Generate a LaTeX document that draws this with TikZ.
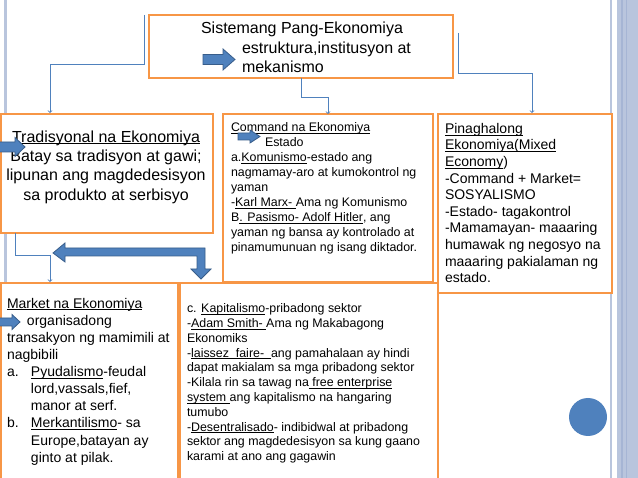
\documentclass[tikz,border=0pt]{standalone}
\usepackage{fontspec}
\setmainfont{Liberation Sans}
\definecolor{boxorange}{HTML}{F79646}
\definecolor{conblue}{HTML}{4F81BD}
\definecolor{arrowfill}{HTML}{4F81BD}
\definecolor{arrowedge}{HTML}{385D8A}
\definecolor{decor}{HTML}{B9C5DD}
\definecolor{decordark}{HTML}{A6B5D4}
\newcommand{\uln}[1]{\underline{\smash{#1}}}
\tikzset{
  box/.style={draw=boxorange, line width=1.6pt, fill=white, inner sep=0pt, outer sep=0pt, anchor=north west},
  txt/.style={inner sep=0pt, outer sep=0pt, align=left, anchor=north west},
  conn/.style={draw=conblue, line width=0.8pt, ->},
  blkarrow/.style={fill=arrowfill, draw=arrowedge, line width=0.8pt, line join=miter}
}
% block arrow: x, y (centre), length, head start, half body, half head
\newcommand{\blockarr}[6]{\filldraw[blkarrow] (#1,#2-#5) -- (#1+#4,#2-#5) -- (#1+#4,#2-#6) -- (#1+#3,#2) -- (#1+#4,#2+#6) -- (#1+#4,#2+#5) -- (#1,#2+#5) -- cycle;}
\begin{document}
\begin{tikzpicture}[x=1pt,y=-1pt]
\clip (0,0) rectangle (638,478);
\fill[white] (0,0) rectangle (638,478);
% side decoration
\draw[decor, line width=3pt] (5,0) -- (5,283);
\draw[decor, line width=2pt] (610.5,0) -- (610.5,478);
\fill[decor] (617,0) rectangle (638,478);
\draw[decordark, line width=1.2pt] (622,0) -- (622,478);
\draw[decordark, line width=0.6pt] (626.5,0) -- (626.5,478);
\fill[conblue] (588,417) circle (19pt);

% boxes
\node[box, minimum width=304pt, minimum height=63pt] (sistema) at (149,15) {};
\node[box, minimum width=212pt, minimum height=119pt] (tradisyonal) at (1,114) {};
\node[box, minimum width=210pt, minimum height=168pt] (command) at (223,114) {};
\node[box, minimum width=174pt, minimum height=179pt] (pinaghalong) at (438,114) {};
\node[box, minimum width=177pt, minimum height=212pt] (market) at (1,283) {};
\node[box, minimum width=258pt, minimum height=212pt] (kapitalismo) at (180,283) {};

% connectors
\coordinate (s-left) at (144,15);
\coordinate (s-right) at (458,33);
\coordinate (trad-in) at (50,113);
\coordinate (pin-in) at (532,113);
\coordinate (t-out) at (15,233);
\coordinate (mkt-in) at (50,282);
\draw[conn] (sistema.south) -- ++(0,19) -| (command.north);
\draw[conn] (s-left) -- ++(0,49) -| (trad-in);
\draw[conn] (s-right) -- ++(0,40) -| (pin-in);
\draw[conn] (t-out) -- ++(0,22) -| (mkt-in);

% texts
\node[txt, anchor=north, align=center, font=\fontsize{16}{19}\selectfont] (sistema-t1) at (302,20.7) {\strut Sistemang Pang-Ekonomiya};
\node[txt, font=\fontsize{16}{19}\selectfont] (sistema-t2) at (242,40.2) {\strut estruktura,institusyon at\\mekanismo};
\node[txt, anchor=north, align=center, font=\fontsize{16}{19.4}\selectfont] (tradisyonal-t) at (106,128.6)
  {\strut\uln{Tradisyonal na Ekonomiya}\\Batay sa tradisyon at gawi;\\lipunan ang magdedesisyon\\sa produkto at serbisyo};
\node[txt, font=\fontsize{12.4}{15}\selectfont] (command-t) at (231,121.5)
  {\strut\uln{Command na Ekonomiya}\\
   \hspace*{34pt}Estado\\
   a.\uln{Komunismo}-estado ang\\
   nagmamay-aro at kumokontrol ng\\
   yaman\\
   -\uln{Karl Marx-~}Ama ng Komunismo\\
   B\uln{. Pasismo- Adolf Hitler}, ang\\
   yaman ng bansa ay kontrolado at\\
   pinamumunuan ng isang diktador.};
\node[txt, font=\fontsize{14}{16.6}\selectfont] (pinaghalong-t) at (445,121.7)
  {\strut\uln{Pinaghalong}\\
   \uln{Ekonomiya(Mixed}\\
   \uln{Economy})\\
   -Command + Market=\\
   SOSYALISMO\\
   -Estado- tagakontrol\\
   -Mamamayan- maaaring\\
   humawak ng negosyo na\\
   maaaring pakialaman ng\\
   estado.};
\node[txt, font=\fontsize{14}{17.1}\selectfont] (market-t) at (7,296.3)
  {\strut\uln{Market na Ekonomiya}\\
   \hspace*{20pt}organisadong\\
   transakyon ng mamimili at\\
   nagbibili\\
   \makebox[24pt][l]{a.}\uln{Pyudalismo}-feudal\\
   \hspace*{24pt}lord,vassals,fief,\\
   \hspace*{24pt}manor at serf.\\
   \makebox[24pt][l]{b.}\uln{Merkantilismo}- sa\\
   \hspace*{24pt}Europe,batayan ay\\
   \hspace*{24pt}ginto at pilak.};
\node[txt, font=\fontsize{12.4}{14.8}\selectfont] (kapitalismo-t) at (187,302.3)
  {\strut c. \uln{Kapitalismo}-pribadong sektor\\
   -\uln{Adam Smith-~}Ama ng Makabagong\\
   Ekonomiks\\
   -\uln{laissez~~faire-~~}ang pamahalaan ay hindi\\
   dapat makialam sa mga pribadong sektor\\
   -Kilala rin sa tawag na\uln{~free enterprise}\\
   \uln{system~}ang kapitalismo na hangaring\\
   tumubo\\
   -\uln{Desentralisado}- indibidwal at pribadong\\
   sektor ang magdedesisyon sa kung gaano\\
   karami at ano ang gagawin};

% block arrows
\blockarr{203}{59.5}{32}{20}{5}{10.5}
\blockarr{-8}{147}{33}{23}{5}{9.5}
\blockarr{238}{136.5}{22}{12}{3.5}{6.5}
\blockarr{-6}{322}{26}{18}{4}{7.5}
\filldraw[blkarrow] (53,253) -- (65,243) -- (65,248) -- (205,248) -- (205,269) -- (211,269)
  -- (201,279) -- (191,269) -- (197,269) -- (197,256) -- (65,256) -- (65,262) -- cycle;
\end{tikzpicture}
\end{document}
